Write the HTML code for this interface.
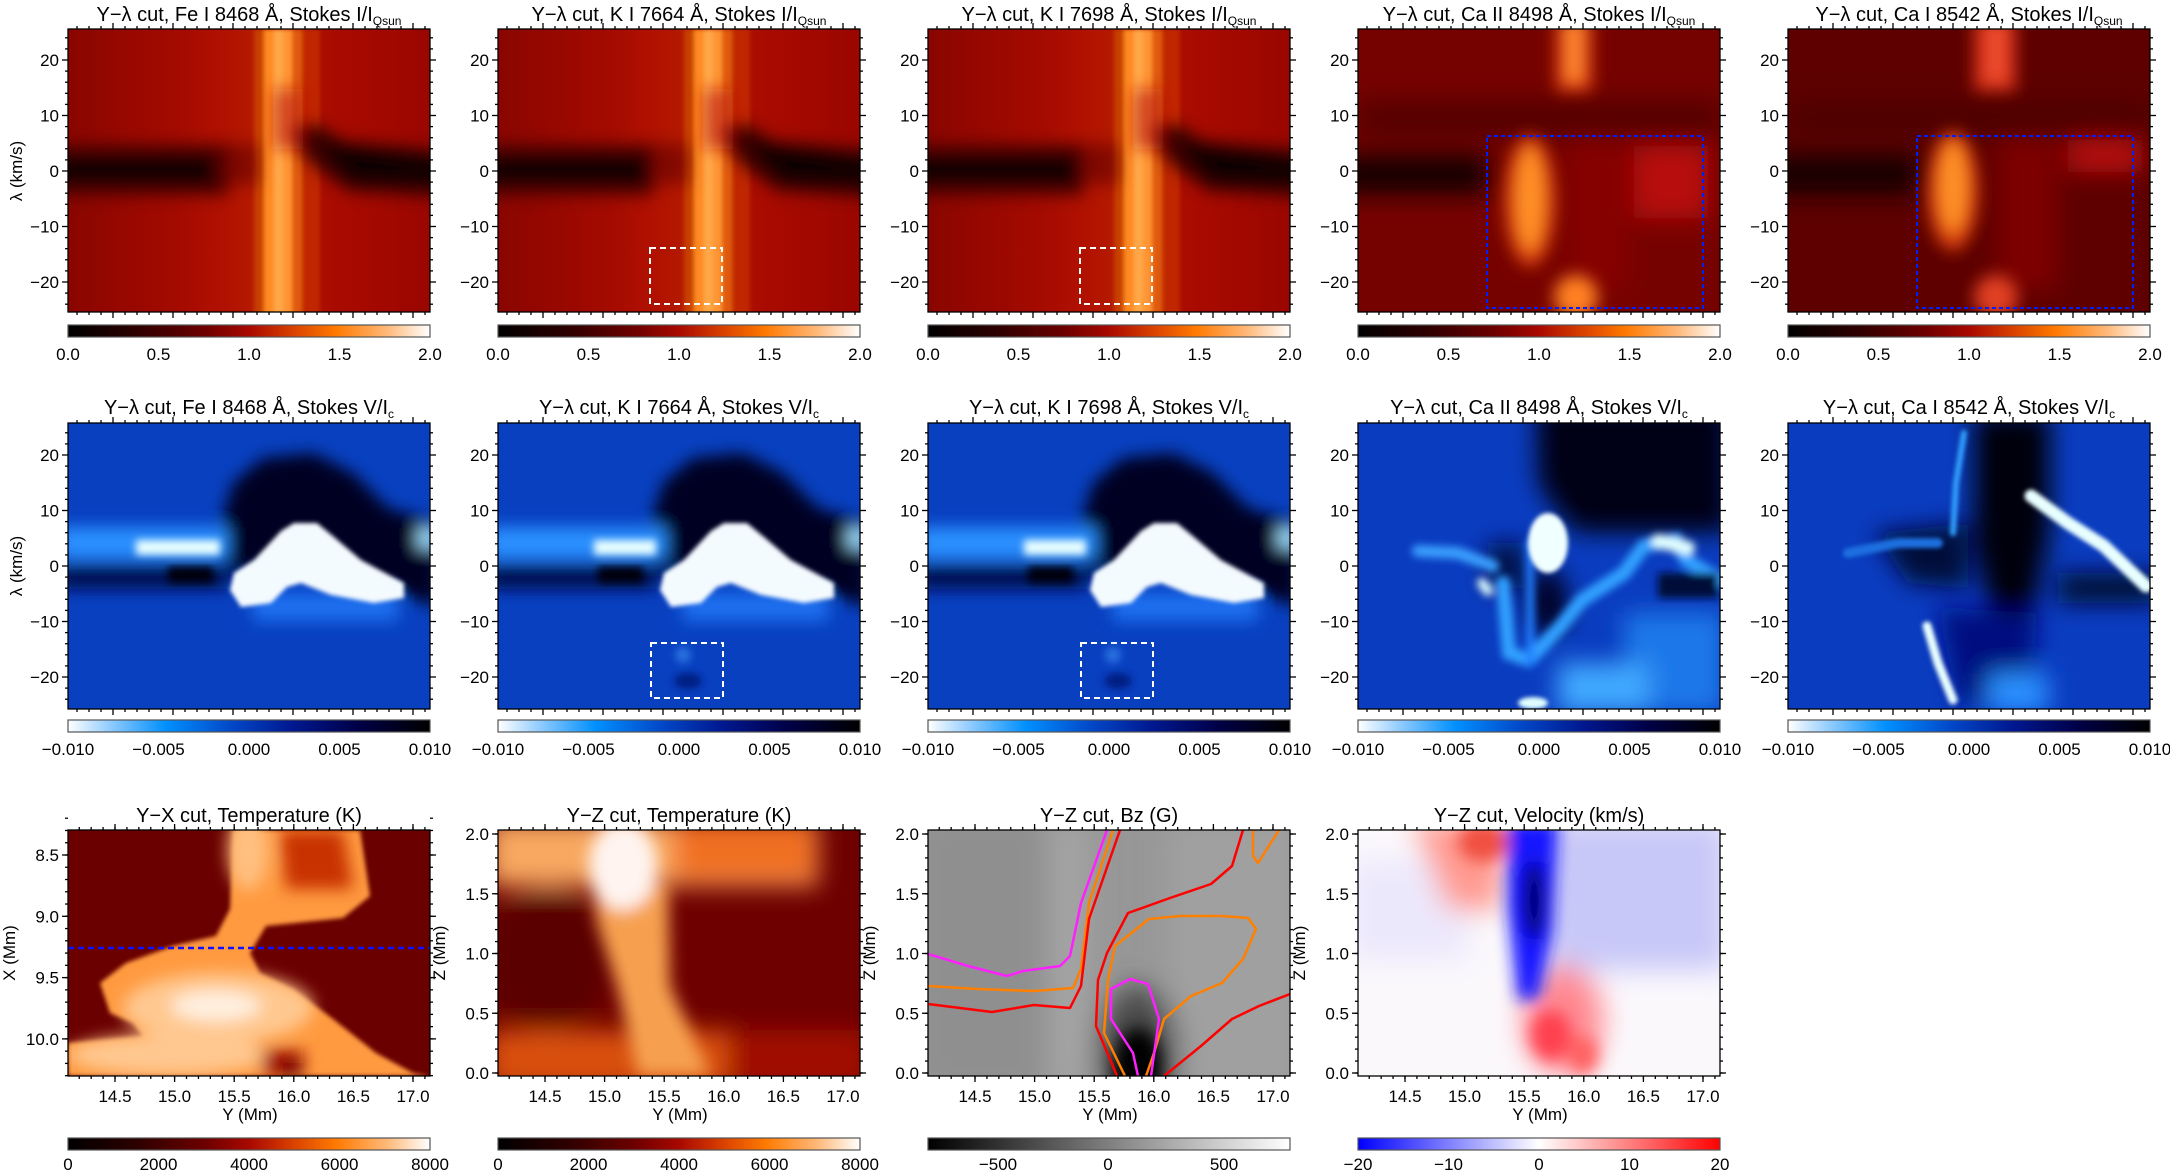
<!DOCTYPE html>
<html><head><meta charset="utf-8">
<style>
html,body{margin:0;padding:0;background:#fff;}
svg{display:block;font-family:"Liberation Sans",sans-serif;}
</style></head>
<body>
<svg id="s" xmlns="http://www.w3.org/2000/svg" width="2170" height="1173" viewBox="0 0 2170 1173">
<defs>
<filter id="b2" x="-50%" y="-50%" width="200%" height="200%"><feGaussianBlur stdDeviation="2"/></filter>
<filter id="b4" x="-50%" y="-50%" width="200%" height="200%"><feGaussianBlur stdDeviation="4"/></filter>
<filter id="b8" x="-50%" y="-50%" width="200%" height="200%"><feGaussianBlur stdDeviation="8"/></filter>
<filter id="b12" x="-50%" y="-50%" width="200%" height="200%"><feGaussianBlur stdDeviation="12"/></filter>
<filter id="b14" x="-50%" y="-50%" width="200%" height="200%"><feGaussianBlur stdDeviation="14"/></filter>
<clipPath id="c1"><rect x="0" y="0" width="362" height="283"/></clipPath>
<clipPath id="c2"><rect x="0" y="0" width="362" height="286"/></clipPath>
<clipPath id="c3"><rect x="0" y="0" width="362" height="246"/></clipPath>
<linearGradient id="gRed" x1="0" x2="1" y1="0" y2="0">
<stop offset="0" stop-color="#000"/><stop offset="0.2" stop-color="#300000"/><stop offset="0.38" stop-color="#6e0000"/>
<stop offset="0.5" stop-color="#a80800"/><stop offset="0.62" stop-color="#d84000"/><stop offset="0.74" stop-color="#ff7a00"/>
<stop offset="0.88" stop-color="#ffb878"/><stop offset="1" stop-color="#fff"/></linearGradient>
<linearGradient id="gBlue" x1="0" x2="1" y1="0" y2="0">
<stop offset="0" stop-color="#fff"/><stop offset="0.12" stop-color="#8ccaff"/><stop offset="0.27" stop-color="#0090ff"/>
<stop offset="0.45" stop-color="#0048c8"/><stop offset="0.62" stop-color="#001890"/><stop offset="0.8" stop-color="#000048"/>
<stop offset="1" stop-color="#000"/></linearGradient>
<linearGradient id="gGray" x1="0" x2="1"><stop offset="0" stop-color="#000"/><stop offset="1" stop-color="#fff"/></linearGradient>
<linearGradient id="gVel" x1="0" x2="1"><stop offset="0" stop-color="#0000ff"/><stop offset="0.5" stop-color="#fff"/><stop offset="1" stop-color="#ff0000"/></linearGradient>
<linearGradient id="bgFe" x1="0" x2="1"><stop offset="0" stop-color="#8a0500"/><stop offset="0.3" stop-color="#a30a00"/><stop offset="0.42" stop-color="#b01000"/><stop offset="0.5" stop-color="#b41800"/><stop offset="0.75" stop-color="#a80a00"/><stop offset="1" stop-color="#9a0600"/></linearGradient>
</defs>
<g id="root"></g>
</svg>
<script>
const root=document.getElementById('root');
let out='';
const X0=[68,498,928,1358,1788], W=362;
function txt(x,y,s,size,anchor,extra){return `<text x="${x}" y="${y}" font-size="${size}" text-anchor="${anchor||'middle'}" ${extra||''}>${s}</text>`;}

function stripe(rects){return rects.map(r=>`<rect x="${r[0]}" y="0" width="${r[1]}" height="300" fill="${r[2]}"/>`).join('');}
function row1Fe(k){
  let s=`<rect width="362" height="283" fill="url(#bgFe)"/>`;
  s+=`<g filter="url(#b2)">`+stripe([[186,10,'#c84000'],[196,10,'#ff8a20'],[206,9,'#ffa848'],[215,9,'#ff9430'],[224,10,'#e05a10'],[234,18,'#c02600']])+`</g>`;
  s+=`<g filter="url(#b8)"><rect x="-20" y="116" width="${k?175:180}" height="50" fill="#4a0000"/>
  <rect x="-20" y="128" width="${k?168:165}" height="26" fill="#080000"/>
  <path d="M228,96 L250,96 L275,112 L380,122 L380,168 L280,162 L250,140 L228,118Z" fill="#3a0000"/>
  <path d="M255,108 L275,118 L380,130 L380,156 L285,152 L262,130Z" fill="#0a0000"/>
  <rect x="205" y="60" width="30" height="60" fill="#b81010" opacity="0.6"/>
  <rect x="150" y="115" width="40" height="40" fill="#600000" opacity="0.6"/></g>`;
  if(k) s+=`<rect x="152" y="219" width="72" height="56" fill="none" stroke="#fff" stroke-width="2" stroke-dasharray="6,4"/>`;
  return s;
}
function row1Ca(v){
  let s=`<rect width="362" height="283" fill="${v?'#5e0000':'#760200'}"/>`;
  s+=`<g filter="url(#b12)"><rect x="0" y="70" width="362" height="40" fill="#4a0000" opacity="0.7"/>
  <rect x="-20" y="125" width="150" height="40" fill="#180000"/>
  <rect x="${v?280:276}" y="${v?111:117}" width="74" height="${v?32:72}" fill="#b81010"/>
  <rect x="210" y="110" width="60" height="150" fill="#8a0008" opacity="0.7"/></g>
  <g filter="url(#b8)">
  <rect x="${v?186:198}" y="-10" width="${v?42:36}" height="72" fill="${v?'#d83018':'#e04010'}"/>
  <rect x="${v?200:208}" y="-10" width="16" height="62" fill="${v?'#f05030':'#ff8a30'}"/>
  <ellipse cx="${v?165:172}" cy="${v?162:172}" rx="26" ry="${v?60:66}" fill="#d84010"/>
  <ellipse cx="${v?165:172}" cy="${v?158:170}" rx="14" ry="${v?45:52}" fill="#ff9028"/>
  <ellipse cx="${v?208:218}" cy="268" rx="22" ry="22" fill="${v?'#e04020':'#ff8020'}"/></g>`;
  s+=`<rect x="129" y="107" width="216" height="172" fill="none" stroke="#0020ff" stroke-width="2" stroke-dasharray="4,3"/>`;
  return s;
}
function row2K(k){
  let s=`<rect width="362" height="286" fill="#0840c0"/>`;
  s+=`<g filter="url(#b8)"><path d="M150,110 L165,60 L195,35 L245,30 L285,50 L320,85 L370,100 L370,185 L320,165 L250,140 L190,145 L160,150Z" fill="#000020"/>
  <rect x="-10" y="104" width="${k?178:170}" height="32" fill="#2a90ff"/>
  <rect x="-10" y="142" width="170" height="24" fill="#000a50"/>
  <rect x="185" y="170" width="145" height="28" fill="#1a70f0"/>
  <rect x="350" y="105" width="20" height="20" fill="#a0e0ff"/></g>`;
  s+=`<g filter="url(#b4)"><rect x="${k?96:68}" y="117" width="${k?62:84}" height="15" fill="#e8ffff"/>
  <rect x="100" y="144" width="45" height="16" fill="#000010"/></g>`;
  s+=`<g filter="url(#b2)"><path d="M166,150 L186,137 L213,108 L226,100 L249,100 L266,114 L293,137 L319,151 L336,160 L336,175 L306,180 L263,172 L233,160 L219,164 L203,180 L173,184 L162,167Z" fill="#f4fbff"/></g>`;
  if(k) s+=`<rect x="153" y="220" width="72" height="55" fill="none" stroke="#fff" stroke-width="2" stroke-dasharray="6,4"/><g filter="url(#b4)"><ellipse cx="190" cy="258" rx="14" ry="8" fill="#001a80"/><ellipse cx="185" cy="232" rx="8" ry="8" fill="#2a70e0"/></g>`;
  return s;
}
function row2CaII(){
  let s=`<rect width="362" height="286" fill="#0a3cc0"/>`;
  s+=`<g filter="url(#b12)"><path d="M178,-20 L372,-20 L372,110 L220,110 L200,90 L180,60Z" fill="#000018"/>
  <rect x="266" y="190" width="100" height="100" fill="#1a78e8"/>
  <rect x="130" y="120" width="36" height="45" fill="#000a40"/>
  <ellipse cx="190" cy="180" rx="20" ry="35" fill="#000020"/>
  <rect x="200" y="240" width="90" height="50" fill="#40a8ff"/></g>`;
  s+=`<g filter="url(#b4)" fill="none" stroke-linecap="round">
  <path d="M60,128 L100,130 L135,143" stroke="#3aa0ff" stroke-width="12"/>
  <path d="M145,160 L151,230 L171,237 L203,203 L224,177 L266,150 L286,123 L318,117 L328,137 L362,157" stroke="#30a0ff" stroke-width="14"/>
  <path d="M300,118 L330,125" stroke="#e0ffff" stroke-width="14"/>
  <path d="M124,160 L130,168" stroke="#e0ffff" stroke-width="10"/>
  <path d="M172,120 L172,240" stroke="#2080ff" stroke-width="8"/>
  <rect x="300" y="150" width="60" height="25" fill="#000838" stroke="none"/></g>`;
  s+=`<g filter="url(#b2)"><ellipse cx="190" cy="120" rx="20" ry="30" fill="#f0ffff"/><ellipse cx="175" cy="280" rx="15" ry="6" fill="#e0ffff"/></g>`;
  return s;
}
function row2CaI(){
  let s=`<rect width="362" height="286" fill="#0a3cc0"/>`;
  s+=`<g filter="url(#b12)"><path d="M186,-10 L262,-10 L262,110 L245,190 L205,200 L186,120Z" fill="#000010"/>
  <path d="M86,110 L180,100 L180,165 L120,160Z" fill="#000838"/>
  <path d="M150,185 L250,190 L240,280 L170,280Z" fill="#001080"/>
  <rect x="270" y="150" width="100" height="30" fill="#000830"/>
  <rect x="200" y="250" width="60" height="40" fill="#2a90ff"/></g>`;
  s+=`<g filter="url(#b2)" fill="none" stroke-linecap="round">
  <path d="M243,73 L280,100 L316,123 L358,163" stroke="#e8ffff" stroke-width="13"/>
  <path d="M139,203 L150,240 L165,277" stroke="#e8ffff" stroke-width="9"/>
  <path d="M176,10 L168,60 L165,110" stroke="#30a0ff" stroke-width="6"/>
  <path d="M60,130 L110,120 L150,120" stroke="#1a70e0" stroke-width="10"/></g>`;
  return s;
}
function tempYX(){
  let s=`<rect width="362" height="246" fill="#6a0000"/>`;
  s+=`<g filter="url(#b2)"><path d="M165,0 L292,0 L302,66 L275,88 L198,96 L182,123 L192,143 L225,159 L265,189 L308,223 L345,243 L362,246 L0,246 L0,213 L75,206 L65,193 L42,183 L32,153 L58,133 L105,116 L148,106 L162,79Z" fill="#ff9a40"/></g>`;
  s+=`<g filter="url(#b8)"><path d="M212,0 L275,0 L285,59 L218,59Z" fill="#c83000"/>
  <ellipse cx="150" cy="178" rx="95" ry="35" fill="#ffc890"/><ellipse cx="148" cy="176" rx="45" ry="15" fill="#fff0e0"/>
  <ellipse cx="100" cy="225" rx="100" ry="20" fill="#ffc890"/>
  <rect x="195" y="220" width="40" height="26" fill="#a01000"/><rect x="215" y="234" width="18" height="12" fill="#300000"/>
  <ellipse cx="180" cy="20" rx="20" ry="40" fill="#ffc080"/></g>`;
  s+=`<line x1="0" y1="118" x2="362" y2="118" stroke="#1010ff" stroke-width="2.5" stroke-dasharray="6,4"/>`;
  return s;
}
function tempYZ(){
  let s=`<rect width="362" height="246" fill="#6e0000"/>`;
  s+=`<g filter="url(#b12)"><rect x="-10" y="-10" width="330" height="66" fill="#f8a860"/>
  <rect x="177" y="-10" width="140" height="60" fill="#f07020"/>
  <rect x="-10" y="200" width="240" height="60" fill="#d85010"/>
  <rect x="230" y="200" width="140" height="60" fill="#a01000"/>
  <ellipse cx="50" cy="130" rx="60" ry="70" fill="#5a0000"/></g>
  <g filter="url(#b8)"><path d="M95,50 L170,50 L172,156 L213,246 L140,246 L119,156 L98,89Z" fill="#f6a050"/>
  <ellipse cx="125" cy="35" rx="34" ry="45" fill="#fff4f0"/></g>`;
  return s;
}
function bz(){
  let s=`<rect width="362" height="246" fill="#979797"/>`;
  s+=`<g filter="url(#b14)"><rect x="-10" y="-10" width="160" height="270" fill="#8f8f8f"/>
  <rect x="120" y="-10" width="40" height="270" fill="#a4a4a4"/>
  <rect x="240" y="-10" width="130" height="270" fill="#a0a0a0"/>
  <ellipse cx="210" cy="225" rx="40" ry="70" fill="#4a4a4a"/></g>
  <g filter="url(#b8)"><ellipse cx="210" cy="238" rx="24" ry="40" fill="#000"/></g>`;
  const pl=(pts,c)=>`<polyline points="${pts}" fill="none" stroke="${c}" stroke-width="2.5" stroke-linejoin="round"/>`;
  s+=pl('0,124 40,136 79,146 95,141 132,136 142,126 153,73 179,0','#ff20ff');
  s+=pl('0,156 50,159 106,161 145,158 153,139 161,73 185,0','#ff8000');
  s+=pl('0,174 64,182 106,175 142,178 153,156 161,89 192,0','#ff0000');
  s+=pl('189,246 168,196 170,150 179,123 200,83 242,68 283,54 304,36 315,0','#ff0000');
  s+=pl('236,246 273,216 304,189 331,176 362,164','#ff0000');
  s+=pl('197,246 176,203 180,150 187,116 221,89 252,86 294,86 320,88 328,99 315,129 294,153 263,166 236,189 226,223 218,246','#ff8000');
  s+=pl('325,0 325,26 330,33 351,0','#ff8000');
  s+=pl('210,246 205,223 183,189 183,159 202,149 220,154 231,189 223,246','#ff20ff');
  return s;
}
function vel(){
  let s=`<rect width="362" height="246" fill="#fbf8fc"/>`;
  s+=`<g filter="url(#b14)"><rect x="190" y="-10" width="180" height="150" fill="#c8c8f8"/>
  <rect x="-10" y="30" width="120" height="100" fill="#ece8fc"/>
  <path d="M55,-10 L150,-10 L140,80 L90,80Z" fill="#ff9a90"/>
  <ellipse cx="205" cy="190" rx="40" ry="55" fill="#ff8890"/></g>
  <g filter="url(#b8)"><ellipse cx="125" cy="12" rx="25" ry="20" fill="#f05040"/>
  <path d="M150,-10 L200,-10 L195,100 L180,170 L160,170 L150,80Z" fill="#1818ff"/>
  <ellipse cx="176" cy="70" rx="10" ry="40" fill="#000050"/>
  <ellipse cx="193" cy="205" rx="20" ry="25" fill="#ff4050"/>
  <ellipse cx="225" cy="225" rx="15" ry="20" fill="#ff6060"/></g>`;
  return s;
}

function axes(x0,y0,h,xt,xm,yt,ym,ylabels,xlabels){
  let s=`<g stroke="#000" stroke-width="1.3">`;
  for(const x of xt){s+=`<line x1="${x0+x}" y1="${y0+h}" x2="${x0+x}" y2="${y0+h+6}"/><line x1="${x0+x}" y1="${y0}" x2="${x0+x}" y2="${y0-6}"/>`;}
  for(const x of xm){s+=`<line x1="${x0+x}" y1="${y0+h}" x2="${x0+x}" y2="${y0+h+3}"/><line x1="${x0+x}" y1="${y0}" x2="${x0+x}" y2="${y0-3}"/>`;}
  for(const y of yt){s+=`<line x1="${x0}" y1="${y0+y}" x2="${x0-6}" y2="${y0+y}"/><line x1="${x0+W}" y1="${y0+y}" x2="${x0+W+6}" y2="${y0+y}"/>`;}
  for(const y of ym){s+=`<line x1="${x0}" y1="${y0+y}" x2="${x0-3}" y2="${y0+y}"/><line x1="${x0+W}" y1="${y0+y}" x2="${x0+W+3}" y2="${y0+y}"/>`;}
  s+=`</g><rect x="${x0}" y="${y0}" width="${W}" height="${h}" fill="none" stroke="#000" stroke-width="1.3"/>`;
  if(ylabels) for(const [y,l] of ylabels) s+=txt(x0-9,y0+y+6,l,17,'end');
  if(xlabels) for(const [x,l] of xlabels) s+=txt(x0+x,y0+h+26,l,17,'middle');
  return s;
}
function cbar(x0,y,grad,labels,ly){
  let s=`<rect x="${x0}" y="${y}" width="${W}" height="12" fill="url(#${grad})" stroke="#555" stroke-width="1.2"/>`;
  for(const [x,l] of labels) s+=txt(x0+x,ly,l,17,'middle');
  return s;
}
const M='\u2212';
function lamTicks(zero){const t=[],m=[],l=[];for(let v=-20;v<=20;v+=10){t.push(zero-v*5.55);l.push([zero-v*5.55,v<0?M+(-v):''+v]);}for(let v=-24;v<=24;v+=2){if(v%10) m.push(zero-v*5.55);}return [t,m,l];}
const xt12=[45,105,165,225,285,345], xm12=[];for(let x=9;x<362;x+=12){if(!xt12.includes(x)) xm12.push(x);}
const Ymap=v=>47+(v-14.5)*119.2;
const xt3=[],xm3=[],xl3=[];for(let v=14.5;v<=17.01;v+=0.5){xt3.push(Ymap(v));xl3.push([Ymap(v),v.toFixed(1)]);}for(let v=14.2;v<=17.11;v+=0.1)xm3.push(Ymap(v));

const titles1=['Fe I 8468 Å','K I 7664 Å','K I 7698 Å','Ca II 8498 Å','Ca I 8542 Å'];
for(let i=0;i<5;i++){
  const x0=X0[i];
  let c = i<3? row1Fe(i>0) : row1Ca(i===4);
  out+=`<g transform="translate(${x0},29)" clip-path="url(#c1)">${c}</g>`;
  let [t,m,l]=lamTicks(142);
  out+=axes(x0,29,283,xt12,xm12,t,m,l,null);
  out+=`<text x="${x0+181}" y="21" font-size="20" text-anchor="middle">Y${M}λ cut, ${titles1[i]}, Stokes I/I<tspan font-size="12" dy="4">Qsun</tspan></text>`;
  out+=cbar(x0,325,'gRed',[[0,'0.0'],[90.5,'0.5'],[181,'1.0'],[271.5,'1.5'],[362,'2.0']],360);
  c = i<3? row2K(i>0) : (i===3? row2CaII():row2CaI());
  out+=`<g transform="translate(${x0},423)" clip-path="url(#c2)">${c}</g>`;
  [t,m,l]=lamTicks(143);
  out+=axes(x0,423,286,xt12,xm12,t,m,l,null);
  out+=`<text x="${x0+181}" y="414" font-size="20" text-anchor="middle">Y${M}λ cut, ${titles1[i]}, Stokes V/I<tspan font-size="12" dy="4">c</tspan></text>`;
  out+=cbar(x0,720,'gBlue',[[0,M+'0.010'],[90.5,M+'0.005'],[181,'0.000'],[271.5,'0.005'],[362,'0.010']],755);
}
out+=txt(22,171,'λ (km/s)',17,'middle','transform="rotate(-90 22 171)"');
out+=txt(22,566,'λ (km/s)',17,'middle','transform="rotate(-90 22 566)"');

const t3=['Y'+M+'X cut, Temperature (K)','Y'+M+'Z cut, Temperature (K)','Y'+M+'Z cut, Bz (G)','Y'+M+'Z cut, Velocity (km/s)'];
const f3=[tempYX,tempYZ,bz,vel];
for(let i=0;i<4;i++){
  const x0=X0[i];
  out+=`<g transform="translate(${x0},830)" clip-path="url(#c3)">${f3[i]()}</g>`;
  let yt=[],ym=[],yl=[];
  if(i===0){const f=v=>25+(v-8.5)*122.6;for(let v=8.5;v<=10.01;v+=0.5){yt.push(f(v));yl.push([f(v),v.toFixed(1)]);}for(let v=8.2;v<=10.31;v+=0.1)ym.push(f(v));}
  else{const f=v=>243-v*119.5;for(let v=0;v<=2.01;v+=0.5){yt.push(f(v));yl.push([f(v),v.toFixed(1)]);}for(let v=0;v<=2.01;v+=0.1)ym.push(f(v));}
  out+=axes(x0,830,246,xt3,xm3,yt,ym,yl,xl3);
  out+=txt(x0+181,822,t3[i],20,'middle');
  out+=txt(x0+182,1120,'Y (Mm)',17,'middle');
  const lx=x0-53, ly=953;
  out+=txt(lx,ly,i===0?'X (Mm)':'Z (Mm)',17,'middle',`transform="rotate(-90 ${lx} ${ly})"`);
}
out+=cbar(68,1138,'gRed',[[0,'0'],[90.5,'2000'],[181,'4000'],[271.5,'6000'],[362,'8000']],1170);
out+=cbar(498,1138,'gRed',[[0,'0'],[90.5,'2000'],[181,'4000'],[271.5,'6000'],[362,'8000']],1170);
out+=cbar(928,1138,'gGray',[[70,M+'500'],[180,'0'],[296,'500']],1170);
out+=cbar(1358,1138,'gVel',[[0,M+'20'],[90.5,M+'10'],[181,'0'],[271.5,'10'],[362,'20']],1170);
root.innerHTML=out;
</script>
</body></html>
